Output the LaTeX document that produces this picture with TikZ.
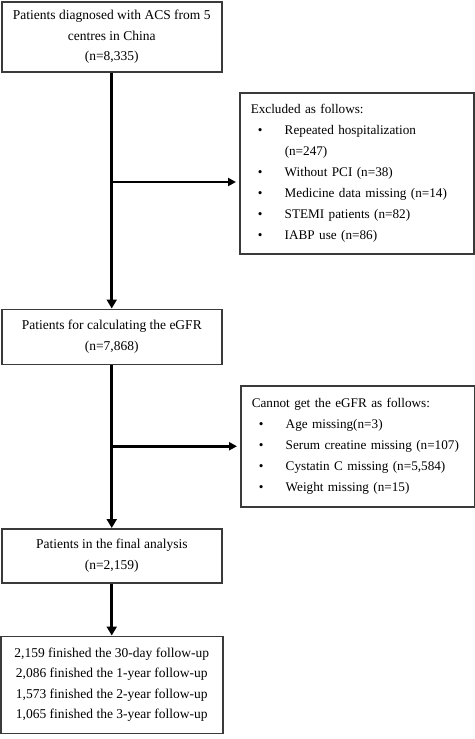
\documentclass[tikz,border=0pt]{standalone}
\usepackage{fontspec}
\setmainfont{Liberation Serif}
\usetikzlibrary{arrows.meta, positioning, calc}
\definecolor{BoxLine}{HTML}{3A3A3A}
\tikzset{
  mbox/.style={draw=BoxLine, line width=1.5pt, align=center, minimum width=220pt,
    inner sep=0pt, font=\fontsize{13.5}{20.5}\selectfont},
  xbox/.style={draw=BoxLine, line width=1.5pt, align=left, text width=218pt,
    inner xsep=8pt, inner ysep=0pt, font=\fontsize{13.2}{21}\selectfont},
  flow/.style={-{Triangle[length=9pt, width=10pt]}, line width=3pt},
  flowx/.style={-{Triangle[length=8pt, width=8pt]}, line width=2.5pt, shorten >=3pt},
}
\newcommand{\bul}{\hspace*{10pt}\makebox[27pt][l]{\textbullet}}

\begin{document}
\begin{tikzpicture}[x=1pt, y=1pt]
  \useasboundingbox (0,0) rectangle (474,-739);
  % main column
  \node[mbox, minimum height=70pt, anchor=north west] (diag) at (1,-1)
    {Patients diagnosed with ACS from 5\\centres in China\\(n=8,335)};
  \node[mbox, minimum height=55pt, below=236pt of diag] (calc)
    {Patients for calculating the eGFR\\(n=7,868)};
  \node[mbox, minimum height=54pt, below=163pt of calc] (final)
    {Patients in the final analysis\\(n=2,159)};
  \node[mbox, minimum height=97pt, minimum width=222pt, below=52pt of final] (follow)
    {2,159 finished the 30-day follow-up\\2,086 finished the 1-year follow-up\\
     1,573 finished the 2-year follow-up\\1,065 finished the 3-year follow-up};
  % exclusions
  \node[xbox, minimum height=161pt, anchor=north west] (excl) at (239,-92)
    {\hspace*{3pt}Excluded as follows:\\
     \bul Repeated hospitalization\\
     \hspace*{37pt}(n=247)\\
     \bul Without PCI (n=38)\\
     \bul Medicine data missing (n=14)\\
     \bul STEMI patients (n=82)\\
     \bul IABP use (n=86)};
  \node[xbox, minimum height=121pt, anchor=north west] (miss) at (240,-385)
    {\hspace*{3pt}Cannot get the eGFR as follows:\\
     \bul Age missing(n=3)\\
     \bul Serum creatine missing (n=107)\\
     \bul Cystatin C missing (n=5,584)\\
     \bul Weight missing (n=15)};
  \coordinate (j1) at (111,-182);
  \coordinate (j2) at (diag.south |- miss.west);
  \draw[flow] (diag) -- (calc);
  \draw[flowx] (j1) -- (j1 -| excl.west);
  \draw[flow] (calc) -- (final);
  \draw[flowx] (j2) -- (j2 -| miss.west);
  \draw[flow] (final) -- (follow);
\end{tikzpicture}
\end{document}
